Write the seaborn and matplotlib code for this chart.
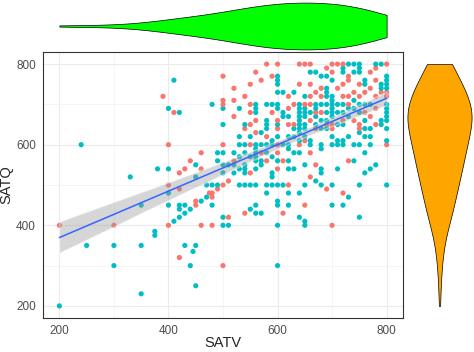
import numpy as np
import matplotlib
matplotlib.use('Agg')
import matplotlib.pyplot as plt
import pandas as pd
import seaborn as sns

# SATQ values per SATV column
male_cols = {
    200: [400], 300: [400], 390: [720], 400: [600, 500, 400], 410: [680],
    420: [530, 490, 320], 430: [540], 440: [560], 450: [460, 450],
    460: [580, 540, 400], 475: [480], 480: [480, 470, 400], 490: [490],
    500: [770, 710, 700, 600, 500, 300], 510: [510, 420],
    520: [740, 710, 670, 560], 540: [720, 640, 430],
    550: [750, 700, 680, 650, 600, 530], 560: [780, 660, 630], 570: [760, 580],
    580: [800, 620, 560], 590: [770, 680], 600: [800, 660, 640, 600, 580, 540],
    610: [560, 430], 620: [720, 690, 650, 500], 630: [700, 650],
    640: [800, 750, 600], 650: [800, 700, 610, 450],
    660: [800, 750, 720, 700, 660, 580, 520], 670: [730, 680, 640, 550],
    680: [740, 720, 680], 690: [790, 650, 490], 700: [800, 780, 650, 640, 400],
    710: [800, 740], 720: [800, 750, 720, 660, 480],
    730: [770, 760, 720, 700, 560], 740: [730, 660], 750: [750, 720, 650, 640],
    760: [730, 680], 770: [780, 740, 670], 780: [790, 760, 720, 690, 650],
    790: [730], 800: [800, 730, 720, 600],
}
female_cols = {
    200: [200], 240: [600], 250: [350], 300: [350, 300], 330: [520],
    350: [450, 350, 230], 375: [385, 375], 380: [540], 400: [690, 540, 480, 450],
    410: [760, 410], 420: [680, 450, 440, 420], 430: [450, 430, 350],
    440: [440, 300], 445: [335], 450: [550, 520, 350, 250], 460: [460],
    470: [500, 470], 480: [700, 500, 450], 490: [580, 560, 500],
    500: [690, 650, 580, 550, 530, 420, 400], 510: [550, 400],
    520: [580, 550, 530], 530: [690, 620, 600, 570, 540, 500],
    540: [650, 600, 580, 550, 540, 530, 500], 550: [620, 570, 500, 440],
    560: [700, 690, 680, 600, 590, 580, 570, 560, 540, 500, 450, 430],
    570: [630, 600, 560, 550, 430], 580: [700, 660, 650, 640, 600, 580, 500, 480],
    590: [700, 610, 600, 570, 530, 520, 500],
    600: [770, 760, 750, 730, 700, 690, 650, 620, 560, 500, 460, 450, 400, 300],
    610: [730, 680, 670, 600, 500], 620: [670, 620, 600, 590, 560, 540, 480, 450],
    630: [730, 640, 620, 580, 540],
    640: [700, 690, 680, 670, 660, 650, 640, 630, 610, 580, 480, 420],
    650: [720, 690, 680, 670, 650, 640, 620, 550, 500, 410, 400],
    660: [780, 680, 610, 600], 670: [780, 700, 690, 670, 650, 510],
    680: [770, 700, 660, 640, 600, 590, 540, 530, 500],
    690: [770, 740, 730, 720, 700, 680, 660, 640],
    700: [760, 720, 710, 700, 690, 680, 670, 620, 600, 500, 450],
    710: [700, 680, 650, 610, 600, 540], 720: [790, 780, 700, 680, 650, 610, 600, 450],
    730: [800, 690, 670, 620, 470], 740: [800, 780, 710, 690, 600, 560],
    750: [800, 790, 780, 700, 680, 630, 600, 500, 420],
    760: [760, 750, 700, 660, 640, 620, 580, 530], 770: [700, 640, 620, 600, 540],
    780: [800, 550], 790: [800, 750, 740, 660, 650],
    800: [770, 760, 750, 740, 700, 690, 680, 670, 660, 640, 610, 500],
}

rows = []
for g, cols in [('1', male_cols), ('2', female_cols)]:
    for v, qs in cols.items():
        for q in qs:
            rows.append((v, q, g))
df = pd.DataFrame(rows, columns=['SATV', 'SATQ', 'gender'])
# interleave so neither colour sits entirely on top
df = df.sort_values(['SATQ', 'SATV']).reset_index(drop=True)

sns.set_style('white')
plt.rcParams['font.family'] = ['Liberation Sans', 'DejaVu Sans']

W, H = 474, 352
fig = plt.figure(figsize=(W / 100, H / 100), dpi=100)
ax = fig.add_axes([43 / W, 1 - 318 / H, 360 / W, 266 / H])
ax_top = fig.add_axes([43 / W, 1 - 52 / H, 360 / W, 52 / H])
ax_right = fig.add_axes([405 / W, 1 - 318 / H, 69 / W, 266 / H])

# main scatter
sns.scatterplot(data=df, x='SATV', y='SATQ', hue='gender',
                palette={'1': '#F8766D', '2': '#00BFC4'},
                s=14, linewidth=0, legend=False, ax=ax, zorder=3)
sns.regplot(data=df, x='SATV', y='SATQ', scatter=False, ax=ax,
            color='#3366FF', line_kws={'lw': 1.1, 'zorder': 5})
band = ax.collections[-1]
band.set_facecolor('#999999')
band.set_alpha(0.4)
band.set_zorder(4)

ax.set_xlim(170, 830)
ax.set_ylim(170, 830)
ax.set_xticks([200, 400, 600, 800])
ax.set_yticks([200, 400, 600, 800])
ax.set_xticks([300, 500, 700], minor=True)
ax.set_yticks([300, 500, 700], minor=True)
ax.grid(True, which='major', color='#EBEBEB', lw=0.8)
ax.grid(True, which='minor', color='#F2F2F2', lw=0.5)
ax.set_axisbelow(True)
for sp in ax.spines.values():
    sp.set_color('#333333')
    sp.set_linewidth(0.8)
ax.tick_params(which='major', direction='out', length=3, width=0.6,
               color='#333333', labelcolor='#4D4D4D', labelsize=8.5, pad=2)
ax.tick_params(which='minor', length=0)
ax.set_xlabel('SATV', fontsize=10.5)
ax.set_ylabel('SATQ', fontsize=10.5)
ax.xaxis.set_label_coords(0.5, -0.066)
ax.yaxis.set_label_coords(-0.083, 0.5)

# marginal violins
sns.violinplot(x=df['SATV'], ax=ax_top, orient='h', color='#00FF00',
               inner=None, cut=0, linecolor='black', linewidth=0.5,
               saturation=1, width=0.9, bw_adjust=1.5)
ax_top.set_xlim(170, 830)
ax_top.set_ylim(-0.5, 0.5)
ax_top.axis('off')

sns.violinplot(y=df['SATQ'], ax=ax_right, orient='v', color='#FFA500',
               inner=None, cut=0, linecolor='black', linewidth=0.5,
               saturation=1, width=0.93, bw_adjust=1.3)
ax_right.set_ylim(170, 830)
ax_right.set_xlim(-0.5, 0.5)
ax_right.axis('off')

fig.savefig('out.png', dpi=100)
